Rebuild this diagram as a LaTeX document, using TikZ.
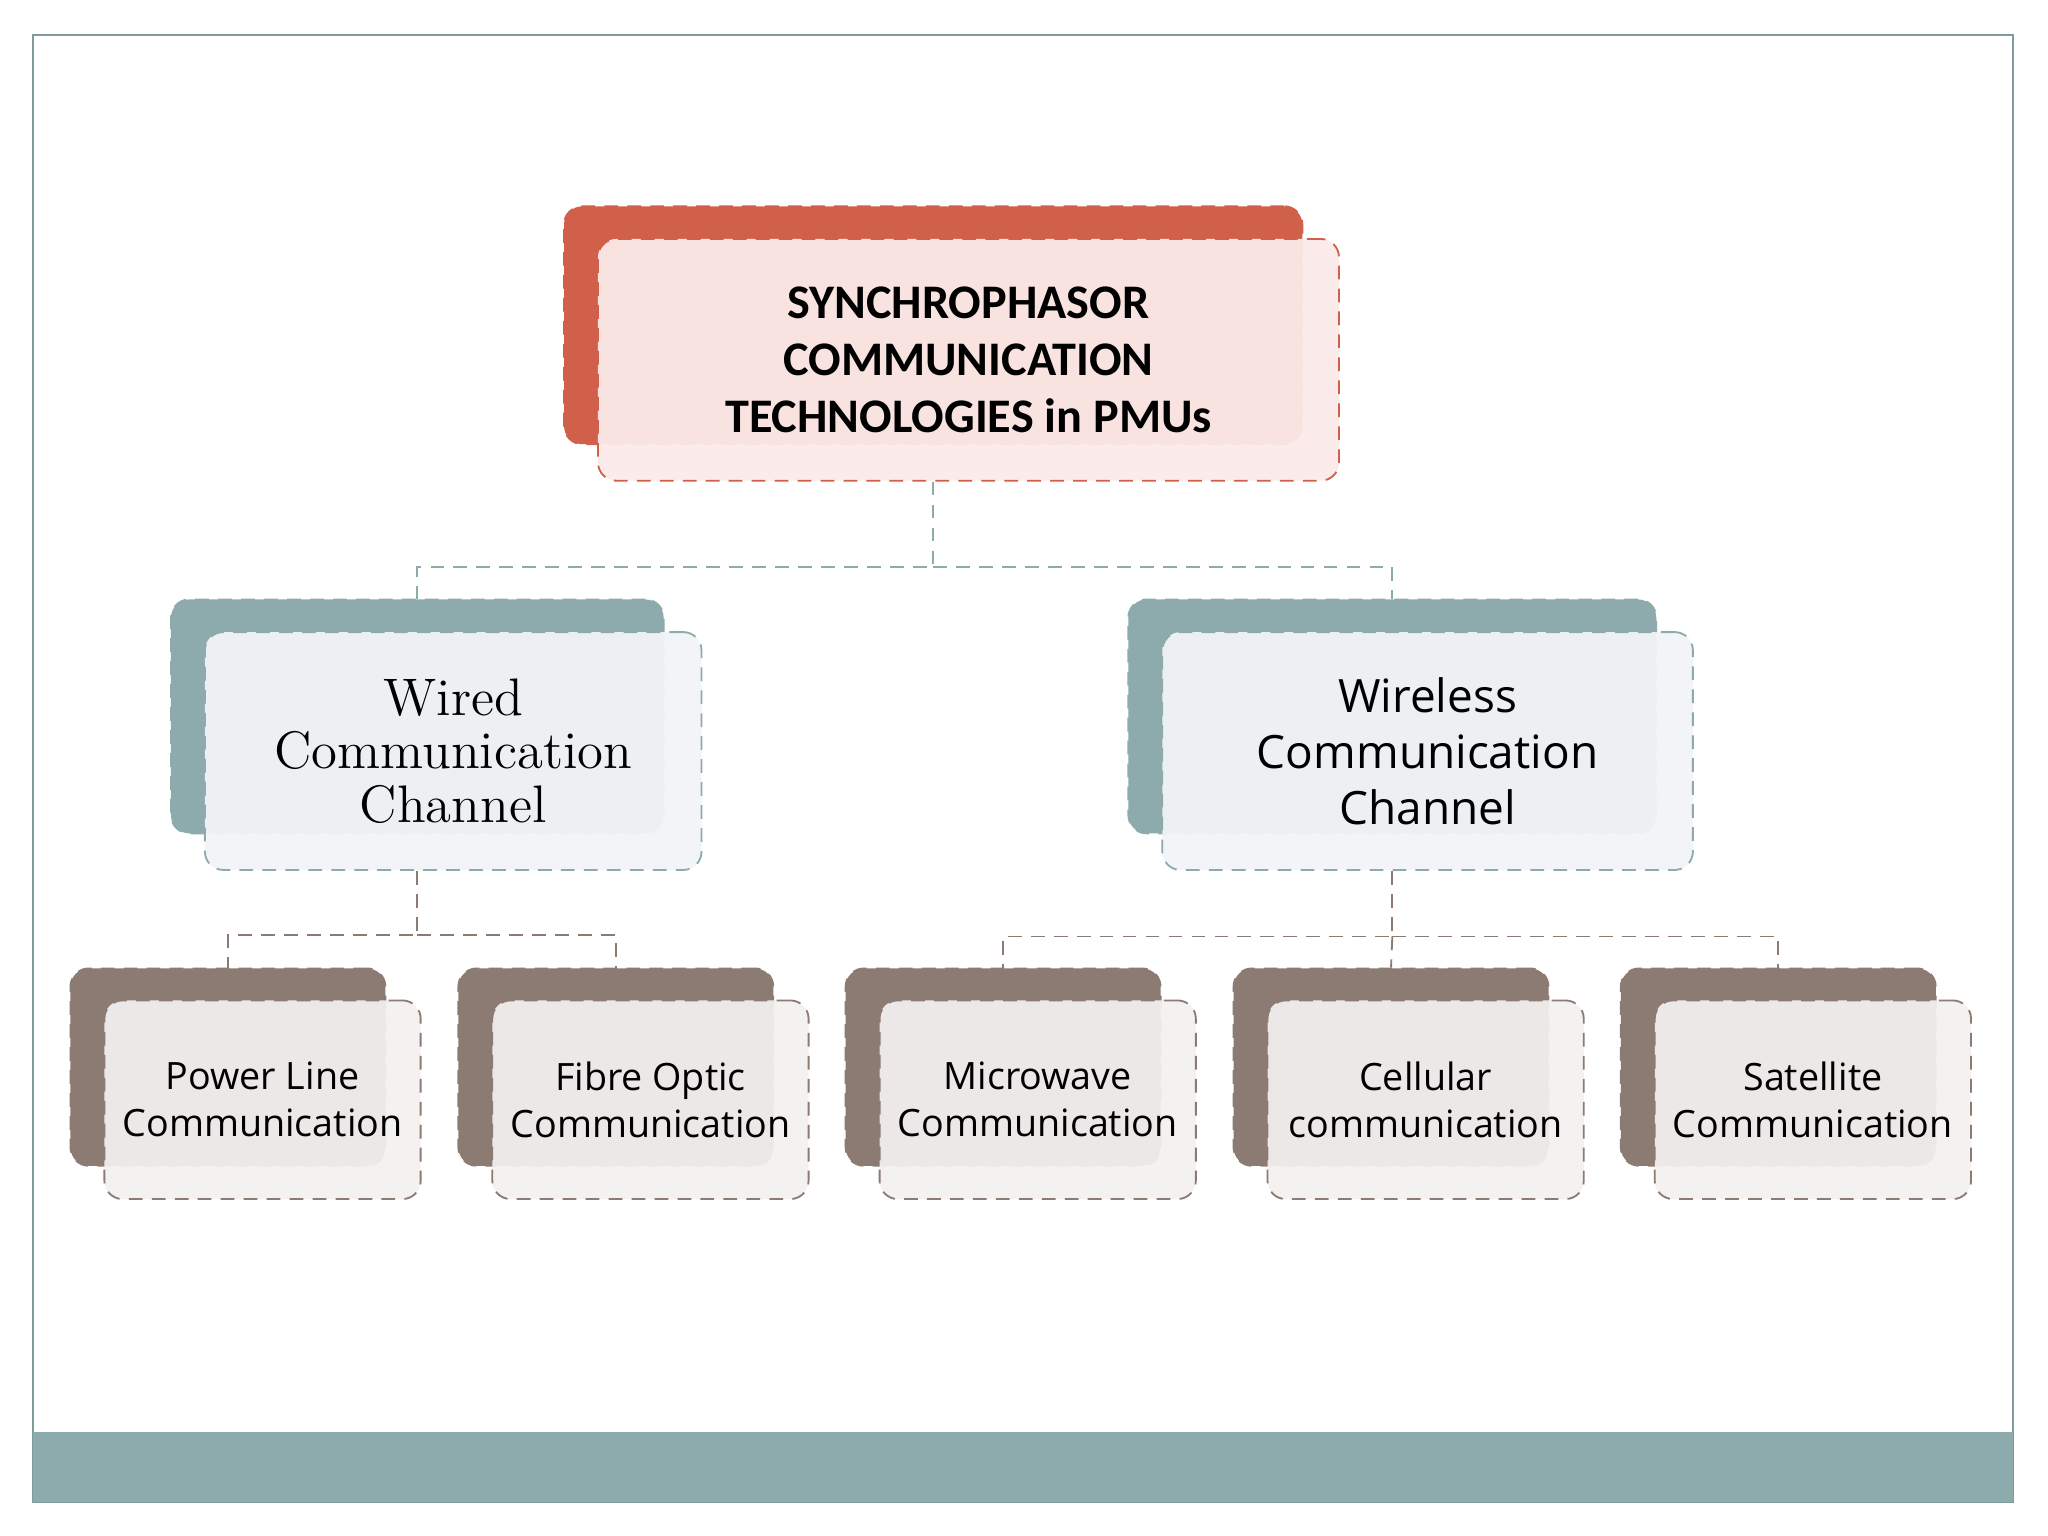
\documentclass[tikz,border=0pt]{standalone}
\usepackage{fontspec}
\setmainfont{Open Sans}
\newfontfamily\calfont{Carlito}
\newfontfamily\lmfont{Latin Modern Roman}
\usetikzlibrary{positioning}
\definecolor{topred}{HTML}{D0604A}
\definecolor{toppink}{HTML}{FBEBEA}
\definecolor{tealc}{HTML}{8DAAAD}
\definecolor{tealfill}{HTML}{F3F4F7}
\definecolor{brownc}{HTML}{8C7B73}
\definecolor{brownfill}{HTML}{F4F1F1}
\definecolor{framec}{HTML}{7F9C9C}
\tikzset{
  back/.style={rectangle, rounded corners=0.14cm, draw=#1, densely dashed, fill=#1},
  front/.style={rectangle, rounded corners=0.14cm, densely dashed, text centered, align=center},
  link/.style={densely dashed, thin, draw=#1}
}
\begin{document}
\begin{tikzpicture}[x=0.01cm, y=-0.01cm]
  \useasboundingbox (0,0) rectangle (1568,1176);
  \fill[white] (0,0) rectangle (1568,1176);
  \draw[framec, thin] (25,27) rectangle (1541,1150);
  \fill[tealc] (25,1096) rectangle (1541,1150);

  % top level
  \node (topb) [back=topred, minimum width=5.65cm, minimum height=1.82cm] at (714.5,249) {};
  \node (top) [front, draw=topred, fill=toppink, fill opacity=0.95, text opacity=1, minimum width=5.67cm, minimum height=1.85cm, font=\calfont\bfseries\fontsize{10.5}{12.4}\selectfont] at (741.5,275.5) {SYNCHROPHASOR\\COMMUNICATION\\TECHNOLOGIES in PMUs};

  % channels
  \node (wiredb) [back=tealc, minimum width=3.77cm, minimum height=1.79cm] at (319.5,548.5) {};
  \node (wired) [front, draw=tealc, fill=tealfill, fill opacity=0.95, text opacity=1, minimum width=3.8cm, minimum height=1.82cm, font=\lmfont\fontsize{11.5}{11.6}\selectfont] at (347,575) {Wired\\Communication\\Channel};
  \node (wirelessb) [back=tealc, minimum width=4.04cm, minimum height=1.79cm] at (1066,548.5) {};
  \node (wireless) [front, draw=tealc, fill=tealfill, fill opacity=0.95, text opacity=1, minimum width=4.06cm, minimum height=1.82cm, font=\fontsize{10}{12.2}\selectfont] at (1093,575) {Wireless\\Communication\\Channel};

  % leaves
  \foreach \name/\x/\txt in {plc/174.5/{Power Line\\Communication}, foc/471.5/{Fibre Optic\\Communication}, mwc/768/{Microwave\\Communication}, cel/1065/{Cellular\\communication}, sat/1361.5/{Satellite\\Communication}} {
    \node (\name b) [back=brownc, minimum width=2.41cm, minimum height=1.51cm] at (\x,817) {};
    \node (\name) [front, draw=brownc, fill=brownfill, fill opacity=0.93, text opacity=1, minimum width=2.42cm, minimum height=1.52cm, font=\fontsize{8.2}{10.2}\selectfont] at (\x+26.5,842) {\txt};
  }

  % connectors
  \coordinate (j0) at (714.5,434);
  \draw[link=tealc] (top.south -| topb.south) -- (j0) -| (wiredb.north);
  \draw[link=tealc] (j0) -| (wirelessb.north);
  \coordinate (j1) at (319.5,716);
  \draw[link=brownc] (wired.south -| wiredb.south) -- (j1) -| (plcb.north);
  \draw[link=brownc] (j1) -| (focb.north);
  \coordinate (j2) at (1066,717);
  \draw[link=brownc] (wireless.south -| wirelessb.south) -- (j2) -| (mwcb.north);
  \draw[link=brownc] (j2) -- (celb.north);
  \draw[link=brownc] (j2) -| (satb.north);
\end{tikzpicture}
\end{document}
